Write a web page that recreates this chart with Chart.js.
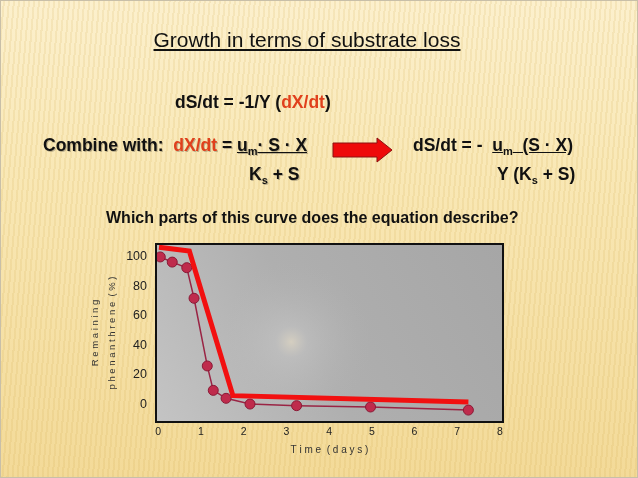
<!DOCTYPE html>
<html>
<head>
<meta charset="utf-8">
<script src="https://cdn.jsdelivr.net/npm/chart.js@4.4.0/dist/chart.umd.min.js"></script>
<style>
html,body{margin:0;padding:0;}
body{width:638px;height:478px;overflow:hidden;position:relative;font-family:"Liberation Sans",Arial,sans-serif;
background:
 repeating-linear-gradient(95deg, rgba(205,165,70,0) 0px, rgba(205,165,70,0) 3px, rgba(205,165,70,0.14) 3px, rgba(205,165,70,0.14) 5px),
 linear-gradient(180deg,#fcf0cd 0%,#f9e8b6 35%,#f3da98 100%);}
#frame{position:absolute;left:0;top:0;width:636px;height:476px;border:1px solid #c8bfa8;pointer-events:none;}
canvas{position:absolute;left:0;top:0;}
.t{position:absolute;white-space:pre;color:#111;}
.f{font-weight:bold;font-size:17.5px;line-height:20px;}
.red{color:#e0401c;}
.u{text-decoration:underline;}
sub{font-size:11px;vertical-align:-4px;line-height:0;}
.sh{text-shadow:1px 1px 0 rgba(120,110,90,0.45);}
</style>
</head>
<body>
<div id="frame"></div>
<canvas id="c" width="638" height="478"></canvas>
<div class="t" style="left:0;top:28px;width:614px;text-align:center;font-size:21px;line-height:24px;text-decoration:underline;">Growth in terms of substrate loss</div>
<div class="t f" style="left:175px;top:92px;">dS/dt = -1/Y (<span class="red">dX/dt</span>)</div>
<div class="t f sh" style="left:43px;top:135px;">Combine with:  <span class="red">dX/dt</span> = <span class="u">u<sub>m</sub>· S · X</span></div>
<div class="t f sh" style="left:249px;top:164px;">K<sub>s</sub> + S</div>
<svg style="position:absolute;left:332px;top:137px;" width="62" height="26" viewBox="0 0 62 26">
 <polygon points="1,6 45,6 45,1 60,13 45,25 45,20 1,20" fill="#ee0a0a" stroke="#8c1010" stroke-width="1"/>
</svg>
<div class="t f" style="left:413px;top:135px;">dS/dt = -  <span class="u">u<sub>m</sub>  (S · X)</span></div>
<div class="t f" style="left:497px;top:164px;">Y (K<sub>s</sub> + S)</div>
<div class="t" style="left:106px;top:208px;font-weight:bold;font-size:16px;line-height:19px;">Which parts of this curve does the equation describe?</div>
<script>
// ---- data ----
const timeDays = [0.05, 0.33, 0.67, 0.84, 1.15, 1.29, 1.59, 2.15, 3.24, 4.97, 7.26];
const remainingPct = [100, 96.5, 92.7, 71.9, 25.9, 9.3, 3.9, 0, -1.1, -2, -4.1];
const fitTime = [0.02, 0.73, 1.75, 7.26];
const fitPct = [106.6, 104.1, 5.7, 1.4];
const xTickValues = [0, 1, 2, 3, 4, 5, 6, 7, 8];
const yTickValues = [0, 20, 40, 60, 80, 100];
const xTitle = 'T i m e  ( d a y s )';
const yTitle = ['R e m a i n i n g', 'p h e n a n t h r e n e  ( % )'];

const fam = '"Liberation Sans Narrow","Liberation Sans",Arial,sans-serif';

const plotBg = {
  id: 'plotBg',
  beforeDatasetsDraw(chart) {
    const {ctx, chartArea: {left, top, right, bottom}} = chart;
    const w = right - left, h = bottom - top;
    ctx.save();
    const lin = ctx.createLinearGradient(left, bottom, right, top);
    lin.addColorStop(0, '#c4c4c4');
    lin.addColorStop(0.45, '#afafaf');
    lin.addColorStop(1, '#a6a6a6');
    ctx.fillStyle = lin;
    ctx.fillRect(left, top, w, h);
    const cx = left + 0.39 * w, cy = top + 0.55 * h;
    const rad = ctx.createRadialGradient(cx, cy, 0, cx, cy, 80);
    rad.addColorStop(0, 'rgba(222,214,196,0.8)');
    rad.addColorStop(0.2, 'rgba(200,200,200,0.45)');
    rad.addColorStop(1, 'rgba(180,180,180,0)');
    ctx.fillStyle = rad;
    ctx.fillRect(left, top, w, h);
    ctx.restore();
  },
  afterDatasetsDraw(chart) {
    const {ctx, chartArea: {left, top, right, bottom}} = chart;
    ctx.save();
    ctx.strokeStyle = '#111';
    ctx.lineWidth = 2;
    ctx.strokeRect(left, top, right - left, bottom - top);
    ctx.restore();
  }
};

new Chart(document.getElementById('c'), {
  type: 'line',
  data: {
    datasets: [
      {
        label: 'trend',
        data: fitTime.map((x, i) => ({x: x, y: fitPct[i]})),
        borderColor: '#f21010',
        borderWidth: 5,
        pointRadius: 0,
        tension: 0,
        fill: false,
        borderJoinStyle: 'miter'
      },
      {
        label: 'measured',
        data: timeDays.map((x, i) => ({x: x, y: remainingPct[i]})),
        borderColor: '#9a2444',
        borderWidth: 1.5,
        pointRadius: 5,
        pointBackgroundColor: '#bf2b4c',
        pointBorderColor: '#8a1a36',
        pointBorderWidth: 1,
        tension: 0,
        fill: false
      }
    ]
  },
  options: {
    responsive: false,
    animation: false,
    devicePixelRatio: 1,
    layout: {padding: {left: 87, top: 244, right: 135, bottom: 0}},
    plugins: {legend: {display: false}, tooltip: {enabled: false}},
    scales: {
      x: {
        type: 'linear',
        min: -0.05,
        max: 8.07,
        grid: {display: false, drawTicks: false},
        border: {display: false},
        afterBuildTicks: s => { s.ticks = xTickValues.map(v => ({value: v})); },
        afterFit: s => { s.height = 56; },
        ticks: {padding: 4, color: '#222', font: {family: fam, size: 10.5}, maxRotation: 0, autoSkip: false},
        title: {display: true, text: xTitle, color: '#333', font: {family: fam, size: 10}, padding: {top: 0, bottom: 22}}
      },
      y: {
        type: 'linear',
        min: -12.2,
        max: 108.8,
        grid: {display: false, drawTicks: false},
        border: {display: false},
        afterBuildTicks: s => { s.ticks = yTickValues.map(v => ({value: v})); },
        afterFit: s => { s.width = 69; },
        ticks: {padding: 9, color: '#222', font: {family: fam, size: 12.5}, autoSkip: false},
        title: {display: true, text: yTitle, color: '#333', font: {family: fam, size: 9.5, lineHeight: 1.8}, padding: {top: 0, bottom: 0}}
      }
    }
  },
  plugins: [plotBg]
});
</script>
</body>
</html>
